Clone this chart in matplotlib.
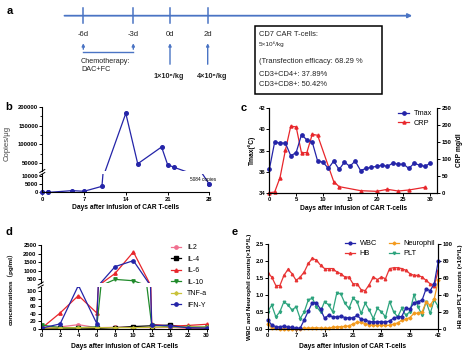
import numpy as np
import matplotlib
matplotlib.use('Agg')
import matplotlib.pyplot as plt
from matplotlib.patches import Rectangle
from matplotlib.ticker import MultipleLocator

plt.rcParams['font.family'] = ['Liberation Sans', 'DejaVu Sans', 'Noto Sans CJK SC']
plt.rcParams['axes.linewidth'] = 0.8
plt.rcParams['xtick.major.width'] = 0.7
plt.rcParams['ytick.major.width'] = 0.7
plt.rcParams['xtick.major.size'] = 2
plt.rcParams['ytick.major.size'] = 2
plt.rcParams['xtick.major.pad'] = 1
plt.rcParams['ytick.major.pad'] = 1

# ---------------- data ----------------
# a : treatment timeline
tl_labels = ['-6d', '-3d', '0d', '2d']
dose_labels = ['1×10⁶/kg', '4×10⁶/kg']
chemo_text = 'Chemotherapy:\nDAC+FC'
box_lines = ['CD7 CAR T-cells:', '5×10⁶/kg', '(Transfection efficacy: 68.29 %',
             'CD3+CD4+: 37.89%', 'CD3+CD8+: 50.42%']

# b : CAR copies
b_days = [0, 1, 5, 7, 10, 14, 16, 20, 21, 22, 28]
b_copies = [0, 0, 1100, 700, 3800, 183000, 48000, 93000, 46000, 39000, 5084]

# c : Tmax and CRP
c_days = np.arange(0, 31)
tmax = [36.2, 38.8, 38.7, 38.7, 37.5, 37.8, 39.5, 39.0, 38.8, 37.0, 36.9,
        36.3, 37.0, 36.2, 36.9, 36.5, 37.0, 36.1, 36.3, 36.4, 36.5, 36.6,
        36.5, 36.8, 36.7, 36.7, 36.3, 36.8, 36.6, 36.5, 36.8]
crp_days = [0, 1, 2, 3, 4, 5, 6, 7, 8, 9, 12, 13, 17, 20, 22, 24, 26, 29]
crp = [0, 2, 45, 126, 197, 195, 118, 119, 173, 170, 33, 18, 6, 4, 10, 5, 8, 16]

# d : cytokines
d_days = ['0', '2', '4', '6', '8', '10', '12', '18', '22', '30']
il2 = [3, 5, 11, 3, 4, 4, 3, 4, 1, 1]
il4 = [0, 1, 2, 1, 3, 6, 8, 10, 3, 3]
il6 = [2, 42, 88, 42, 830, 2090, 12, 7, 9, 12]
il10 = [10, 3, 3, 5, 480, 400, 10, 5, 5, 5]
tnfa = [2, 2, 3, 3, 3, 3, 4, 5, 5, 4]
ifny = [2, 13, 115, 14, 1230, 1580, 10, 8, 3, 2]

# e : blood counts
e_days = np.arange(0, 43)
wbc = [0.26, 0.11, 0.06, 0.05, 0.08, 0.04, 0.04, 0.01, 0.02, 0.26, 0.52, 0.77,
       0.77, 0.57, 0.31, 0.40, 0.35, 0.35, 0.37, 0.33, 0.32, 0.32, 0.39, 0.28,
       0.26, 0.21, 0.20, 0.20, 0.21, 0.19, 0.23, 0.31, 0.35, 0.36, 0.61, 0.58,
       0.76, 0.80, 0.84, 1.18, 1.12, 1.33, 2.0]
neut = [0.15, 0.02, 0.01, 0.0, 0.0, 0.0, 0.0, 0.0, 0.0, 0.01, 0.02, 0.02,
        0.03, 0.02, 0.01, 0.02, 0.04, 0.05, 0.06, 0.07, 0.08, 0.14, 0.19, 0.19,
        0.15, 0.12, 0.10, 0.10, 0.10, 0.10, 0.10, 0.14, 0.17, 0.25, 0.28, 0.33,
        0.45, 0.46, 0.49, 0.79, 0.69, 0.88, 1.43]
hb = [66, 61, 51, 51, 63, 70, 65, 57, 61, 67, 77, 83, 81, 75, 71, 71, 71, 67,
      65, 61, 61, 53, 53, 46, 45, 52, 61, 58, 61, 59, 71, 72, 72, 71, 69, 65,
      63, 63, 61, 57, 53, 51, 69]
plt_count = [20, 28, 14, 20, 32, 28, 22, 26, 12, 20, 34, 36, 26, 20, 32, 28, 20,
             42, 41, 30, 24, 36, 32, 18, 30, 22, 12, 24, 20, 14, 32, 20, 14, 24,
             16, 20, 40, 26, 16, 32, 18, 34, 26]

# ---------------- layout helpers (pixel based) ----------------
W, H = 474, 351
fig = plt.figure(figsize=(W / 100, H / 100), dpi=100)


def rect(l, t, r, b):
    return [l / W, 1 - b / H, (r - l) / W, (b - t) / H]


blue = '#2424a8'
red = '#e8262b'
tick_fs = 4.2
lab_fs = 4.8
xlab = 'Days after infusion of CAR T-cells'


def style(ax):
    ax.tick_params(labelsize=tick_fs, direction='out')
    for t in ax.get_xticklabels() + ax.get_yticklabels():
        t.set_fontweight('bold')
    ax.set_facecolor('none')


# overlay axes in pixel coordinates for the schematic and decorations
ov = fig.add_axes([0, 0, 1, 1])
ov.set_xlim(0, W)
ov.set_ylim(H, 0)
ov.axis('off')

# ---------------- a ----------------
tl_col = '#4a74c4'
tl_x = [83.3, 133.3, 170, 207.7]
ov.annotate('', xy=(415, 15.7), xytext=(61.7, 15.7),
            arrowprops=dict(arrowstyle='-|>', color=tl_col, lw=1.3, mutation_scale=6))
for x, lab in zip(tl_x, tl_labels):
    ov.plot([x, x], [8.3, 23.3], color=tl_col, lw=1.1)
    ov.text(x, 34.3, lab, ha='center', va='center', fontsize=5.5, color='#222222')
# bracket for chemotherapy
for x in tl_x[:2]:
    ov.annotate('', xy=(x, 40.5), xytext=(x, 52),
                arrowprops=dict(arrowstyle='-|>', color=tl_col, lw=1.0, mutation_scale=4))
ov.plot([tl_x[0], tl_x[1]], [52, 52], color=tl_col, lw=1.0)
ov.text(81, 65.5, chemo_text, ha='left', va='center', fontsize=5.2,
        color='#222222', linespacing=1.25)
# infusion arrows
for x, lab, lx in zip(tl_x[2:], dose_labels, [168.5, 212.5]):
    ov.annotate('', xy=(x, 40.5), xytext=(x, 67),
                arrowprops=dict(arrowstyle='-|>', color=tl_col, lw=1.0, mutation_scale=4))
    ov.text(lx, 76, lab, ha='center', va='center', fontsize=5.2, color='#222222',
            fontweight='bold')
ov.add_patch(Rectangle((255, 26), 127, 68, fill=False, ec='black', lw=1.1))
for yy, s, fs in zip([34.3, 44, 61.3, 74, 84.3], box_lines, [5.4, 4.6, 5.4, 5.4, 5.4]):
    ov.text(259, yy, s, ha='left', va='center', fontsize=fs, color='#222222')

# panel letters
for s, (x, y) in zip('abcde', [(10, 11), (9, 107), (244, 108), (9, 232), (235, 232)]):
    ov.text(x, y, s, ha='center', va='center', fontsize=8, fontweight='bold')

# ---------------- b ----------------
bu = fig.add_axes(rect(42.3, 107, 209.3, 170.5))
bl = fig.add_axes(rect(42.3, 174, 209.3, 192.4))
for ax in (bu, bl):
    ax.plot(b_days, b_copies, color=blue, lw=0.9, marker='o', ms=2.6, clip_on=True)
    ax.set_xlim(0, 28)
    ax.spines[['top', 'right']].set_visible(False)
bl.plot(b_days[:2], b_copies[:2], 'o', color=blue, ms=2.6, clip_on=False)
bl.plot(b_days[-1:], b_copies[-1:], 'o', color=blue, ms=2.6, clip_on=False)
bu.set_ylim(30000, 200000)
bu.set_yticks([50000, 100000, 150000, 200000])
bu.yaxis.set_minor_locator(MultipleLocator(25000))
bu.tick_params(axis='y', which='minor', length=1.2, width=0.6)
bu.spines['bottom'].set_visible(False)
bu.set_xticks([])
bl.set_ylim(0, 11500)
bl.set_yticks([0, 5000, 10000])
bl.set_xticks([0, 7, 14, 21, 28])
style(bu)
style(bl)
bl.text(24.7, 8200, '5084 copies', fontsize=3.4, va='center', ha='left')
bl.set_xlabel(xlab, fontsize=lab_fs, fontweight='bold', labelpad=2)
fig.text(7 / W, 1 - 143 / H, 'Copies/μg', rotation=90, fontsize=5.6,
         color='#444444', ha='center', va='center')
for yb in (171, 174):
    ov.plot([39.8, 44.8], [yb + 1.5, yb - 1.5], color='black', lw=0.7)

# ---------------- c ----------------
c1 = fig.add_axes(rect(269.3, 108.3, 437.3, 192.7))
c2 = c1.twinx()
l1, = c1.plot(c_days, tmax, color=blue, lw=0.9, marker='o', ms=2.4, clip_on=False,
              label='Tmax')
l2, = c2.plot(crp_days, crp, color=red, lw=0.9, marker='^', ms=2.2, clip_on=False,
              label='CRP')
c1.set_zorder(c2.get_zorder() + 1)
c1.patch.set_visible(False)
c1.set_xlim(0, 31.3)
c1.set_ylim(34, 42)
c1.set_yticks([34, 36, 38, 40, 42])
c1.set_xticks([0, 5, 10, 15, 20, 25, 30])
c2.set_ylim(0, 250)
c2.set_yticks([0, 50, 100, 150, 200, 250])
c1.spines['top'].set_visible(False)
c2.spines['top'].set_visible(False)
style(c1)
style(c2)
c1.set_xlabel(xlab, fontsize=lab_fs, fontweight='bold', labelpad=2)
c1.set_ylabel('Tmax(°C)', fontsize=lab_fs, fontweight='bold', labelpad=2)
c2.set_ylabel('CRP mg/dl', fontsize=lab_fs, fontweight='bold', labelpad=3)
c1.legend([l1, l2], ['Tmax', 'CRP'], loc='upper left', bbox_to_anchor=(398 / W, 1 - 110 / H),
          bbox_transform=fig.transFigure, frameon=False, fontsize=5.3, borderpad=0,
          borderaxespad=0, handlelength=1.5, handletextpad=0.6, labelspacing=0.35)

# ---------------- d ----------------
du = fig.add_axes(rect(40.7, 245, 208.3, 283.3))
dl = fig.add_axes(rect(40.7, 286.5, 208.3, 329.2))
xi = np.arange(len(d_days))
d_series = [('IL2', il2, '#f07090', 'o'), ('IL-4', il4, 'black', 's'),
            ('IL-6', il6, red, '^'), ('IL-10', il10, '#1f8a2a', 'v'),
            ('TNF-a', tnfa, '#c9c23a', 'D'), ('IFN-Y', ifny, blue, 'o')]
handles = []
for ax in (du, dl):
    for name, vals, col, mk in d_series:
        h, = ax.plot(xi, vals, color=col, lw=0.9, marker=mk, ms=2.4 if mk != 'D' else 1.8,
                     label=name)
        if ax is dl:
            handles.append(h)
    ax.set_xlim(-0.06, 9.09)
    ax.spines[['top', 'right']].set_visible(False)
du.set_ylim(250, 2500)
du.set_yticks([500, 1000, 1500, 2000, 2500])
du.spines['bottom'].set_visible(False)
du.set_xticks([])
dl.set_ylim(-1, 112)
dl.set_yticks([0, 20, 40, 60, 80, 100])
dl.set_xticks(xi)
dl.set_xticklabels(d_days)
style(du)
style(dl)
dl.set_xlabel(xlab, fontsize=lab_fs, fontweight='bold', labelpad=3.5)
fig.text(11 / W, 1 - 287 / H, 'concentrations（pg/ml）', rotation=90, fontsize=4.6,
         fontweight='bold', ha='center', va='center')
for yb in (283.5, 286.5):
    ov.plot([38.2, 43.2], [yb + 1.5, yb - 1.5], color='black', lw=0.7)
dl.legend(handles, [s[0] for s in d_series], loc='upper left',
          bbox_to_anchor=(171 / W, 1 - 244 / H), bbox_transform=fig.transFigure,
          frameon=False, fontsize=5, borderpad=0, borderaxespad=0, handlelength=1.5,
          handletextpad=0.8, labelspacing=0.66)

# ---------------- e ----------------
e1 = fig.add_axes(rect(267.7, 244, 438.3, 328.7))
e2 = e1.twinx()
h_hb, = e2.plot(e_days, hb, color='#e83434', lw=0.9, marker='^', ms=1.8, label='HB')
h_plt, = e2.plot(e_days, plt_count, color='#2ea47e', lw=0.9, marker='v', ms=1.8, label='PLT')
h_neu, = e1.plot(e_days, neut, color='#f39a1e', lw=0.9, marker='D', ms=1.5, clip_on=False,
                 label='Neurophil')
h_wbc, = e1.plot(e_days, wbc, color=blue, lw=0.9, marker='o', ms=2.0, clip_on=False,
                 label='WBC')
e1.set_zorder(e2.get_zorder() + 1)
e1.patch.set_visible(False)
e1.set_xlim(0, 42)
e1.set_ylim(0, 2.5)
e1.set_yticks([0, 0.5, 1.0, 1.5, 2.0, 2.5])
e1.set_yticklabels(['0.0', '0.5', '1.0', '1.5', '2.0', '2.5'])
e1.set_xticks([0, 7, 14, 21, 28, 35, 42])
e2.set_ylim(0, 100)
e2.set_yticks([0, 20, 40, 60, 80, 100])
e1.spines['top'].set_visible(False)
e2.spines['top'].set_visible(False)
style(e1)
style(e2)
e1.set_xlabel(xlab, fontsize=lab_fs, fontweight='bold', labelpad=3.5)
e1.set_ylabel('WBC and Neurophil counts(×10⁹/L)', fontsize=4.6, fontweight='bold', labelpad=2)
e2.set_ylabel('HB and PLT counts (×10⁹/L)', fontsize=4.6, fontweight='bold', labelpad=4)
e1.legend([h_wbc, h_hb, h_neu, h_plt], ['WBC', 'HB', 'Neurophil', 'PLT'], ncol=2,
          loc='upper left', bbox_to_anchor=(345 / W, 1 - 240 / H),
          bbox_transform=fig.transFigure, frameon=False, fontsize=5.3, borderpad=0,
          borderaxespad=0, handlelength=1.4, handletextpad=0.6, labelspacing=0.4,
          columnspacing=1.6)

fig.savefig('out.png', dpi=100)
